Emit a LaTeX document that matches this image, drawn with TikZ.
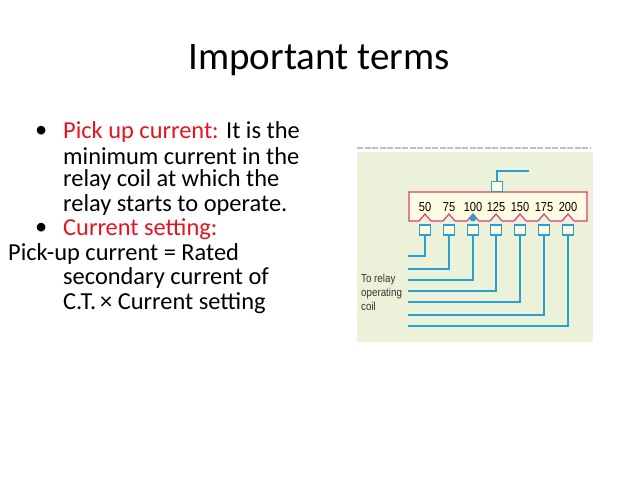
\documentclass[tikz,border=0pt]{standalone}
\usepackage{fontspec}
\setmainfont{Carlito}
\newfontfamily\arial{Liberation Sans}
\newfontfamily\arialn[FakeStretch=0.85]{Liberation Sans}
\definecolor{redt}{RGB}{230,20,30}
\definecolor{pinkb}{RGB}{220,60,120}
\definecolor{blueb}{RGB}{40,160,210}
\definecolor{greenbg}{RGB}{236,242,218}
\definecolor{yel}{RGB}{255,252,225}
\begin{document}
\begin{tikzpicture}[x=1pt,y=-1pt,
  txt/.style={anchor=west,font=\fontsize{24.4}{28}\selectfont,inner sep=0},
  sq/.style={draw=blueb,line width=1.4pt,fill=yel,minimum width=11pt,minimum height=10pt,inner sep=0},
  wire/.style={draw=blueb,line width=1.4pt},
  num/.style={font=\arialn\fontsize{13}{15}\selectfont,inner sep=0}]
\useasboundingbox (0,0) rectangle (638,478);
\fill[white] (0,0) rectangle (638,478);
\node[font=\fontsize{39}{44}\selectfont] (title) at (319,60) {Important terms};
\node[txt] (b1) at (35,132) {•};
\node[txt] (l1) at (63,132) {\textcolor{redt}{Pick up current:} It is the};
\node[txt] (l2) at (63,156) {minimum current in the};
\node[txt] (l3) at (63,180) {relay coil at which the};
\node[txt] (l4) at (63,205) {relay starts to operate.};
\node[txt] (b2) at (35,229) {•};
\node[txt] (l5) at (63,229) {\textcolor{redt}{Current setting:}};
\node[txt] (l6) at (8,254) {Pick-up current = Rated};
\node[txt] (l7) at (63,278) {secondary current of};
\node[txt] (l8) at (63,303) {C.T.\,× Current setting};
% figure
\fill[greenbg] (357,152) rectangle (593,342);
\draw[gray!50,line width=1.5pt,dash pattern=on 6pt off 1.5pt] (357,148) -- (590,148);
\path[draw=pinkb,line width=1.2pt,fill=yel] (409,192) -- (587,192) -- (587,221)
  \foreach \x in {568,544,520,496,473,449,425} { -- (\x+6,221) -- (\x,214) -- (\x-6,221)} -- (409,221) -- cycle;
\node[sq] (top) at (497,186.5) {};
\coordinate (tc) at (497,171);
\coordinate (te) at (529,171);
\draw[wire] (top.north) -- (tc) -- (te);
\fill[blueb] (473,218) circle (3.5);
\foreach \v/\x/\y in {50/425/256,75/449/269,100/473/280,125/496/291,150/520/302,175/544/315,200/568/326}{
  \node[num] (n\v) at (\x,207) {\v};
  \node[sq] (s\v) at (\x,230) {};
  \coordinate (c\v) at (\x,\y);
  \coordinate (e\v) at (408,\y);
  \draw[wire] (s\v.south) -- (c\v) -- (e\v);
}
\node[anchor=north west,align=left,inner sep=0,font=\arialn\fontsize{11.5}{14}\selectfont,text=black!80] (lab) at (361,274) {To relay\\operating\\coil};
\end{tikzpicture}
\end{document}
